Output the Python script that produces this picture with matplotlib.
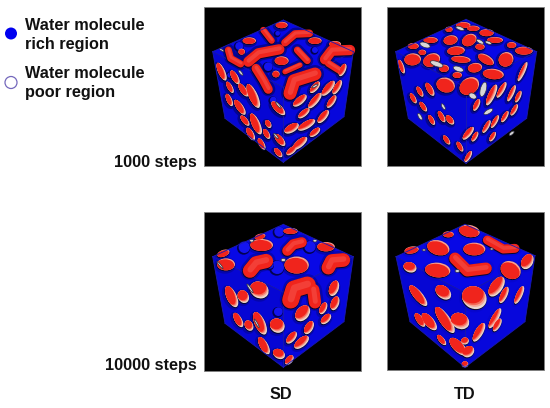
import matplotlib
matplotlib.use('Agg')
import matplotlib.pyplot as plt
from matplotlib.patches import Ellipse, Polygon, Rectangle, Circle

plt.rcParams['font.family'] = ['Liberation Sans', 'DejaVu Sans']

W, H = 550, 408

# panels: crop x, crop y, crop w, crop h (picture pixels); the rest is in 3x crop units
crops = [(200, 0, 175, 175), (380, 0, 170, 175), (200, 205, 175, 175), (380, 205, 170, 175)]
black_boxes = [(12, 20, 472, 477), (20, 20, 473, 477), (12, 20, 472, 477), (22, 20, 469, 475)]

# cube corners: top, left, right, front, bottom, left-bottom, right-bottom
cube1 = [(250, 60), (38, 155), (460, 155), (250, 262), (250, 487), (75, 355), (432, 350)]
cube2 = [(258, 58), (47, 155), (470, 155), (258, 262), (258, 490), (85, 355), (440, 355)]
cube3 = [(250, 58), (38, 155), (460, 155), (250, 262), (250, 487), (75, 355), (432, 350)]
cube4 = [(255, 58), (48, 155), (465, 152), (258, 265), (255, 487), (90, 350), (435, 350)]

# curved red tubes: points, width
tubes1 = [
    ([(190, 90), (215, 122)], 16), ([(255, 128), (285, 102), (328, 100)], 20),
    ([(85, 150), (92, 175), (122, 192)], 18), ([(145, 185), (175, 160), (238, 148)], 28),
    ([(168, 205), (190, 240), (205, 268)], 24), ([(270, 280), (282, 242), (345, 222)], 36),
    ([(292, 150), (322, 182)], 18), ([(375, 178), (395, 152), (450, 150)], 28),
    ([(385, 190), (420, 212)], 18), ([(255, 215), (300, 195)], 13),
]
blobs1_top = [
    (245, 75, 28, 13, 0), (148, 122, 32, 14, 0), (345, 122, 32, 14, 0), (245, 182, 34, 20, 0),
    (405, 132, 28, 12, 0), (228, 222, 14, 14, 0), (125, 155, 12, 12, 0),
]
blobs1_side = [
    (65, 215, 50, 14, 65), (105, 232, 38, 13, 60), (130, 270, 38, 12, 55), (160, 288, 70, 20, 65),
    (88, 300, 32, 10, 65), (120, 322, 45, 14, 55), (90, 262, 30, 9, 60), (135, 362, 30, 10, 50),
    (168, 372, 60, 18, 65), (205, 372, 18, 10, 60), (200, 402, 25, 10, 60), (235, 325, 46, 16, 45),
    (240, 420, 36, 14, 50), (235, 458, 25, 10, 50), (185, 432, 30, 10, 60), (152, 402, 34, 12, 60),
    (385, 265, 48, 16, -50), (345, 262, 34, 13, -50), (300, 302, 42, 16, -40), (345, 302, 50, 14, -50),
    (395, 305, 36, 12, -55), (275, 385, 40, 18, -30), (320, 375, 50, 16, -30), (370, 350, 40, 14, -50),
    (300, 430, 46, 16, -40), (345, 397, 30, 12, -40), (275, 452, 30, 12, -40), (412, 262, 40, 12, -60),
    (428, 210, 32, 12, -65), (312, 340, 34, 12, -40),
]
beads1 = [(233, 100, 14), (118, 138, 24), (205, 200, 26), (90, 225, 16), (345, 150, 18), (220, 300, 20)]
flecks1 = [(65, 150, 16, 5, 30), (122, 218, 20, 7, 50), (345, 258, 20, 6, -30), (235, 315, 24, 6, 50), (228, 408, 20, 6, 50)]

tubes2 = []
blobs2_top = [
    (250, 75, 35, 12, 0), (207, 88, 14, 10, 0), (280, 85, 30, 10, 0), (320, 98, 35, 15, 0),
    (100, 138, 25, 12, 0), (152, 120, 35, 12, 0), (212, 120, 35, 22, -10), (268, 120, 38, 28, -30),
    (345, 120, 40, 12, 0), (300, 140, 20, 12, 0), (395, 135, 20, 12, 0), (127, 157, 15, 10, 0),
    (228, 152, 45, 20, -5), (98, 178, 42, 30, -5), (155, 180, 45, 32, -25), (378, 178, 38, 36, -40),
    (432, 152, 45, 18, 0), (318, 178, 45, 20, 30), (243, 178, 50, 14, 5), (192, 205, 22, 16, 0),
    (285, 203, 35, 22, -10), (340, 222, 55, 25, 5), (232, 225, 20, 12, 0), (197, 255, 48, 38, 15),
    (268, 258, 55, 42, -35),
]
blobs2_side = [
    (65, 200, 35, 8, 70), (150, 268, 36, 12, 60), (120, 275, 26, 8, 60), (100, 295, 26, 8, 60),
    (210, 360, 25, 12, 50), (155, 360, 25, 8, 60), (240, 440, 25, 8, 60), (185, 350, 30, 9, 60),
    (130, 320, 26, 8, 55), (200, 420, 24, 8, 55),
    (428, 215, 55, 8, -65), (395, 280, 45, 8, -65), (335, 285, 60, 14, -65), (365, 270, 45, 10, -60),
    (290, 315, 30, 10, -65), (345, 365, 35, 8, -60), (320, 380, 35, 8, -60), (375, 350, 30, 8, -60),
    (403, 330, 30, 8, -60), (265, 400, 40, 12, -50), (285, 410, 25, 8, -60), (265, 470, 30, 8, -60),
    (338, 410, 24, 8, -60), (415, 290, 30, 8, -65),
]
beads2 = []
flecks2 = [
    (135, 135, 32, 15, 20), (170, 192, 40, 15, 20), (240, 85, 26, 10, 20), (235, 207, 32, 15, 20),
    (300, 125, 24, 10, 30), (310, 268, 18, 45, 15), (278, 288, 24, 16, 30), (325, 335, 30, 12, -30),
    (120, 350, 22, 9, 60), (190, 320, 20, 8, 60), (325, 128, 20, 8, 20), (395, 400, 18, 8, -40),
]

tubes3 = [
    ([(150, 197), (168, 175), (198, 168)], 40), ([(262, 137), (280, 118), (305, 112)], 28),
    ([(385, 188), (395, 168), (430, 165)], 38), ([(272, 285), (282, 252), (322, 240)], 48),
    ([(340, 255), (345, 292)], 34),
]
blobs3_top = [
    (185, 120, 60, 30, 0), (290, 180, 65, 45, 0), (78, 178, 46, 30, 0), (378, 125, 45, 22, 0),
    (272, 78, 35, 12, 0), (70, 145, 30, 14, -20), (180, 95, 25, 11, -15),
]
blobs3_side = [
    (178, 255, 50, 42, 30), (95, 275, 60, 24, 65), (130, 275, 32, 26, 60), (180, 355, 65, 25, 65),
    (115, 345, 40, 15, 60), (147, 362, 25, 18, 60), (232, 362, 38, 35, 40), (192, 422, 50, 18, 60),
    (237, 447, 30, 22, 30), (268, 465, 25, 14, -50), (275, 398, 35, 16, -50), (305, 412, 45, 20, -40),
    (327, 368, 35, 18, -60), (308, 325, 45, 32, -50), (370, 310, 30, 14, -65), (378, 342, 30, 16, -45),
    (402, 250, 40, 22, -70), (405, 295, 35, 18, -70),
]
beads3 = [(238, 80, 30), (133, 127, 34), (330, 125, 34), (232, 187, 40), (210, 180, 22), (235, 320, 26)]
flecks3 = [(155, 107, 12, 8, 0), (250, 165, 14, 9, 0), (345, 107, 12, 8, 0), (60, 180, 28, 5, 50), (150, 250, 32, 6, 55), (170, 355, 30, 5, 60)]

tubes4 = [
    ([(322, 105), (370, 132), (405, 130)], 24), ([(225, 160), (262, 197), (318, 190)], 32),
]
blobs4_top = [
    (268, 78, 55, 30, 10), (175, 128, 60, 38, 15), (283, 132, 58, 32, 0), (205, 88, 25, 12, 0),
    (95, 135, 35, 15, -10), (173, 195, 68, 38, 5), (392, 195, 55, 45, 30),
]
blobs4_side = [
    (442, 170, 40, 28, -60), (90, 187, 32, 24, 20), (283, 278, 68, 60, 30), (350, 245, 60, 30, -55),
    (190, 262, 45, 30, 40), (115, 272, 70, 20, 50), (195, 345, 85, 25, 55), (148, 350, 55, 22, 50),
    (120, 345, 40, 14, 55), (235, 425, 60, 25, 45), (240, 348, 50, 40, 30), (372, 270, 45, 14, -65),
    (418, 270, 50, 12, -65), (345, 340, 60, 14, -60), (297, 382, 55, 18, -60), (352, 360, 35, 12, -60),
    (255, 408, 15, 15, 0), (265, 440, 30, 25, -40), (255, 478, 12, 12, 0), (185, 405, 30, 10, 50),
]
beads4 = []
flecks4 = [(232, 198, 14, 8, 0), (132, 135, 10, 6, 0), (335, 132, 10, 6, 0)]

cubes = [cube1, cube2, cube3, cube4]
tubes = [tubes1, tubes2, tubes3, tubes4]
blobs_top = [blobs1_top, blobs2_top, blobs3_top, blobs4_top]
blobs_side = [blobs1_side, blobs2_side, blobs3_side, blobs4_side]
beads = [beads1, beads2, beads3, beads4]
flecks = [flecks1, flecks2, flecks3, flecks4]
halo_alpha = [0.75, 0.7, 0.45, 0.12]

row_labels = ['1000 steps', '10000 steps']
col_labels = ['SD', 'TD']

RED = '#f0241c'
BLUE = '#0808e6'
NAVY = '#04047a'
GROW_W = 8
GROW_H = 6
GROW_TUBE = 3


def draw_halo(ax, x, y, w, h, a, alpha, clip):
    halo = Ellipse((x - 3, y + 3), w + 20, h + 20, angle=a, fc=NAVY, ec='none', alpha=alpha, zorder=2)
    ax.add_patch(halo)
    halo.set_clip_path(clip)


def draw_top_blob(ax, x, y, w, h, a):
    w, h = w + GROW_W, h + GROW_H
    ax.add_patch(Ellipse((x - 1, y + 2), w + 2, h + 2, angle=a, fc='#05052a', ec='none', zorder=3))
    base = Ellipse((x, y), w, h, angle=a, fc='#f8a090', ec='none', zorder=4)
    ax.add_patch(base)
    top = Ellipse((x - w * 0.05, y + h * 0.08), w, h, angle=a, fc=RED, ec='none', zorder=5)
    ax.add_patch(top)
    top.set_clip_path(base)


def draw_side_blob(ax, x, y, w, h, a):
    w, h = w + GROW_W, h + GROW_H
    ax.add_patch(Ellipse((x - 1, y + 2), w + 2, h + 2, angle=a, fc='#05052a', ec='none', zorder=3))
    base = Ellipse((x, y), w, h, angle=a, fc='#ead8d2', ec='none', zorder=4)
    ax.add_patch(base)
    # pale end on the lower right, red on the upper left
    mid1 = Ellipse((x - w * 0.04, y - h * 0.10), w, h, angle=a, fc='#f4a898', ec='none', zorder=5)
    mid2 = Ellipse((x - w * 0.08, y - h * 0.18), w, h, angle=a, fc='#f46a58', ec='none', zorder=6)
    top = Ellipse((x - w * 0.12, y - h * 0.26), w, h, angle=a, fc=RED, ec='none', zorder=7)
    for p in (mid1, mid2, top):
        ax.add_patch(p)
        p.set_clip_path(base)


def draw_tube(ax, pts, w):
    w = w + GROW_TUBE
    xs = [p[0] for p in pts]
    ys = [p[1] for p in pts]
    lw = w * 0.24
    ax.plot([v - 1 for v in xs], [v + 2 for v in ys], color='#05052a', lw=lw + 0.5, solid_capstyle='round', zorder=3)
    ax.plot(xs, ys, color=RED, lw=lw, solid_capstyle='round', solid_joinstyle='round', zorder=4)
    ax.plot([v + 1 for v in xs], [v - 3 for v in ys], color='#f86a60', lw=lw * 0.4, alpha=0.4, solid_capstyle='round', zorder=5)


def draw_panel(ax, i):
    c = cubes[i]
    bx, by, bw, bh = black_boxes[i]
    ax.add_patch(Rectangle((bx, by), bw, bh, fc='black', ec='#808080', lw=0.6, zorder=0))
    t, l, r, f, b, lb, rb = c
    ax.add_patch(Polygon([t, r, f, l], fc=BLUE, ec='none', zorder=1))
    ax.add_patch(Polygon([l, f, b, lb], fc='#0606d4', ec='none', zorder=1))
    ax.add_patch(Polygon([f, r, rb, b], fc='#0707dc', ec='none', zorder=1))
    # halos must not spill on the black box
    silhouette = Polygon([t, r, rb, b, lb, l], transform=ax.transData)

    for blob in blobs_top[i] + blobs_side[i]:
        draw_halo(ax, *blob, halo_alpha[i], silhouette)
    for pts, w in tubes[i]:
        xs = [p[0] for p in pts]
        ys = [p[1] for p in pts]
        halo = ax.plot(xs, ys, color=NAVY, lw=(w + 18) * 0.24, alpha=halo_alpha[i], solid_capstyle='round', zorder=2)[0]
        halo.set_clip_path(silhouette)
    for x, y, d in beads[i]:
        ax.add_patch(Circle((x - 2, y + 2), d / 2 + 3, fc='#020250', ec='none', zorder=2))
        ax.add_patch(Circle((x, y), d / 2, fc='#1414f0', ec='none', zorder=2))

    # inner edges stay behind the blobs, outer edges go on top
    for p, q in [(l, f), (r, f), (f, b)]:
        ax.plot([p[0], q[0]], [p[1], q[1]], color='#1a1ab0', lw=0.6, zorder=2)
    for blob in blobs_top[i]:
        draw_top_blob(ax, *blob)
    for blob in blobs_side[i]:
        draw_side_blob(ax, *blob)
    for pts, w in tubes[i]:
        draw_tube(ax, pts, w)
    for x, y, w, h, a in flecks[i]:
        ax.add_patch(Ellipse((x, y), w, h, angle=a, fc='#d8d8d8', ec='#303040', lw=0.5, zorder=8))
    for p, q in [(t, l), (t, r), (l, lb), (lb, b), (r, rb), (rb, b)]:
        ax.plot([p[0], q[0]], [p[1], q[1]], color='#1a1ab0', lw=0.6, zorder=9)
    ax.set_xlim(0, crops[i][2] * 3)
    ax.set_ylim(crops[i][3] * 3, 0)
    ax.axis('off')


def main():
    fig = plt.figure(figsize=(W / 100, H / 100), dpi=100, facecolor='white')

    page = fig.add_axes([0, 0, 1, 1])
    page.set_xlim(0, W)
    page.set_ylim(H, 0)
    page.axis('off')

    for i, (x0, y0, w, h) in enumerate(crops):
        ax = fig.add_axes([x0 / W, 1 - (y0 + h) / H, w / W, h / H])
        ax.patch.set_alpha(0)
        draw_panel(ax, i)

    # legend
    page.add_patch(Circle((11, 33.5), 6, fc='#0000f0', ec='none'))
    page.add_patch(Circle((11, 82.5), 6, fc='white', ec='#7468bc', lw=0.9))
    font = dict(fontsize=11.7, fontweight='bold', color='#111111', va='baseline')
    page.text(25, 30, 'Water molecule', **font)
    page.text(25, 49, 'rich region', **font)
    page.text(25, 78, 'Water molecule', **font)
    page.text(25, 97, 'poor region', **font)

    page.text(197, 167, row_labels[0], ha='right', **font)
    page.text(197, 370, row_labels[1], ha='right', **font)
    page.text(281, 399, col_labels[0], ha='center', **font)
    page.text(465, 399, col_labels[1], ha='center', **font)

    fig.savefig('out.png', dpi=100)


if __name__ == "__main__":
    main()
